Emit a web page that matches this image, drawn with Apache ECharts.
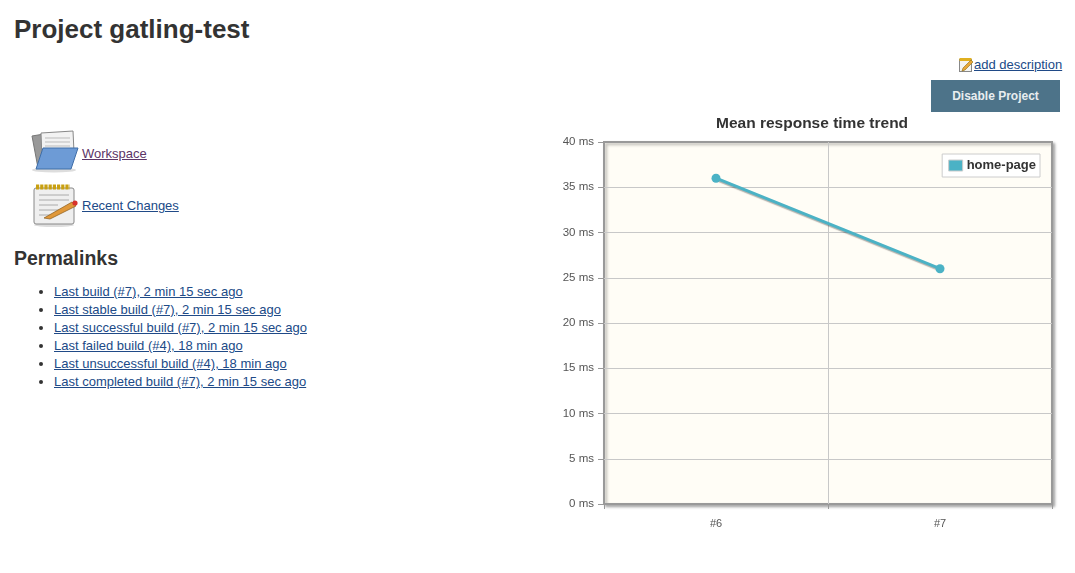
<!DOCTYPE html>
<html>
<head>
<meta charset="utf-8">
<title>Project gatling-test</title>
<script src="https://cdn.jsdelivr.net/npm/echarts@6/dist/echarts.min.js"></script>
<style>
    html, body { margin: 0; padding: 0; background: #fff; overflow: hidden; }
    body { width: 1075px; height: 573px; position: relative; font-family: "Liberation Sans", Arial, sans-serif; color: #333; }
    a { color: #204a87; text-decoration: underline; font-size: 13px; }
    h1, h2 { margin: 0; position: absolute; font-weight: bold; color: #333; }
    h1 { left: 14px; top: 14px; font-size: 26px; line-height: 31px; }
    h2 { left: 14px; top: 246px; font-size: 19.5px; line-height: 24px; }
    .pos { position: absolute; white-space: nowrap; }
    ul { position: absolute; left: 0; top: 283px; margin: 0; padding: 0 0 0 54px; font-size: 13px; line-height: 18px; }
    #button { left: 931px; top: 80px; width: 129px; height: 32px; line-height: 32px; text-align: center; background: #4d7389; color: #e8edf0; font-size: 12px; font-weight: bold; }
    #chart { position: absolute; left: 540px; top: 100px; width: 535px; height: 473px; }
</style>
</head>
<body>
<h1>Project gatling-test</h1>

<svg class="pos" style="left:958px;top:57px" width="16" height="16" viewBox="0 0 16 16">
    <rect x="1.5" y="2.5" width="12" height="12" fill="#f4f4f0" stroke="#888"/>
    <rect x="1.5" y="1" width="12" height="3" fill="#e0b020"/>
    <path d="M5 11 L13 3 L15 5 L7 13 L4 14 Z" fill="#e8a838" stroke="#8a6a10" stroke-width="0.6"/>
</svg>
<a class="pos" style="left:974px;top:57px" href="#">add description</a>
<div class="pos" id="button">Disable Project</div>

<svg class="pos" style="left:30px;top:130px" width="50" height="44" viewBox="0 0 50 44">
    <ellipse cx="24" cy="40" rx="22" ry="2.5" fill="#ddd"/>
    <path d="M2 6 L14 4 L14 34 L8 38 Z" fill="#999" stroke="#777"/>
    <path d="M11 3 L43 1 L44 22 L12 30 Z" fill="#f2f2f2" stroke="#888"/>
    <path d="M15 8 H40 M15 12 H40 M15 16 H40" stroke="#bbb"/>
    <path d="M13 18 H48 L41 39 H6 Z" fill="#6d9bd6" stroke="#3f6ea8"/>
</svg>
<a class="pos" style="left:82px;top:146px;color:#5c3566" href="#">Workspace</a>

<svg class="pos" style="left:30px;top:182px" width="50" height="46" viewBox="0 0 50 46">
    <ellipse cx="24" cy="43" rx="20" ry="2" fill="#ddd"/>
    <rect x="4" y="6" width="40" height="36" rx="2" fill="#efefef" stroke="#888"/>
    <path d="M6 5 H40" stroke="#c9a010" stroke-width="5" stroke-dasharray="3.2 1"/>
    <path d="M9 13 H39 M9 18 H39 M9 23 H28 M9 28 H30 M9 33 H24" stroke="#aaa"/>
    <path d="M14 36 L42 20 L46 24 L20 37 Z" fill="#e0983a" stroke="#8a5a18" stroke-width="0.7"/>
    <circle cx="45" cy="21" r="2.6" fill="#d8322c"/>
</svg>
<a class="pos" style="left:82px;top:198px" href="#">Recent Changes</a>

<h2>Permalinks</h2>
<ul>
    <li><a href="#">Last build (#7), 2 min 15 sec ago</a></li>
    <li><a href="#">Last stable build (#7), 2 min 15 sec ago</a></li>
    <li><a href="#">Last successful build (#7), 2 min 15 sec ago</a></li>
    <li><a href="#">Last failed build (#4), 18 min ago</a></li>
    <li><a href="#">Last unsuccessful build (#4), 18 min ago</a></li>
    <li><a href="#">Last completed build (#7), 2 min 15 sec ago</a></li>
</ul>

<div id="chart"></div>

<script>
    let builds = ["#6", "#7"]
    let homePage = [36, 26]
    let seriesName = "home-page"
    let chartTitle = "Mean response time trend"

    let chart = echarts.init(document.getElementById("chart"), null, {renderer: "canvas"})
    let labelFont = "Liberation Sans"
    let option = {
        animation: false,
        title: {
            text: chartTitle,
            left: 171,
            top: 11,
            textStyle: {color: "#333", fontSize: 15.5, fontWeight: "bold", fontFamily: labelFont}
        },
        legend: {
            data: [seriesName],
            right: 35,
            top: 54,
            padding: [5, 4, 5, 6],
            backgroundColor: "#fff",
            borderColor: "#ccc",
            borderWidth: 1,
            borderRadius: 0,
            icon: "rect",
            itemWidth: 14,
            itemHeight: 11,
            itemGap: 0,
            itemStyle: {borderColor: "#ccc", borderWidth: 1},
            textStyle: {color: "#333", fontSize: 13, fontWeight: "bold", fontFamily: labelFont, padding: [0, 0, 0, -1]}
        },
        grid: {
            show: true,
            left: 64,
            top: 42,
            width: 448,
            height: 362,
            backgroundColor: "#fffdf6",
            borderColor: "#999",
            borderWidth: 2,
            shadowColor: "rgba(0,0,0,0.3)",
            shadowBlur: 3,
            shadowOffsetX: 2,
            shadowOffsetY: 2
        },
        xAxis: {
            type: "category",
            data: builds,
            boundaryGap: true,
            axisLine: {show: false},
            axisTick: {show: true, length: 5, alignWithLabel: false, lineStyle: {color: "#999"}},
            axisLabel: {color: "#555", fontSize: 11, margin: 14, fontFamily: labelFont},
            splitLine: {show: true, showMinLine: false, showMaxLine: false, lineStyle: {color: "#c8c8c8", width: 1}}
        },
        yAxis: {
            type: "value",
            min: 0,
            max: 40,
            interval: 5,
            axisLine: {show: false},
            axisTick: {show: true, length: 6, lineStyle: {color: "#999"}},
            axisLabel: {color: "#555", fontSize: 11.5, margin: 10, padding: [3, 0, 0, 0], fontFamily: labelFont, formatter: "{value} ms"},
            splitLine: {show: true, showMinLine: false, showMaxLine: false, lineStyle: {color: "#c8c8c8", width: 1}}
        },
        series: [{
            name: seriesName,
            type: "line",
            data: homePage,
            symbol: "circle",
            symbolSize: 9,
            color: "#4bb2c5",
            lineStyle: {width: 3, shadowColor: "rgba(0,0,0,0.3)", shadowBlur: 1, shadowOffsetX: 0.5, shadowOffsetY: 1.5},
            itemStyle: {color: "#4bb2c5"}
        }]
    }
    chart.setOption(option)
</script>
</body>
</html>
